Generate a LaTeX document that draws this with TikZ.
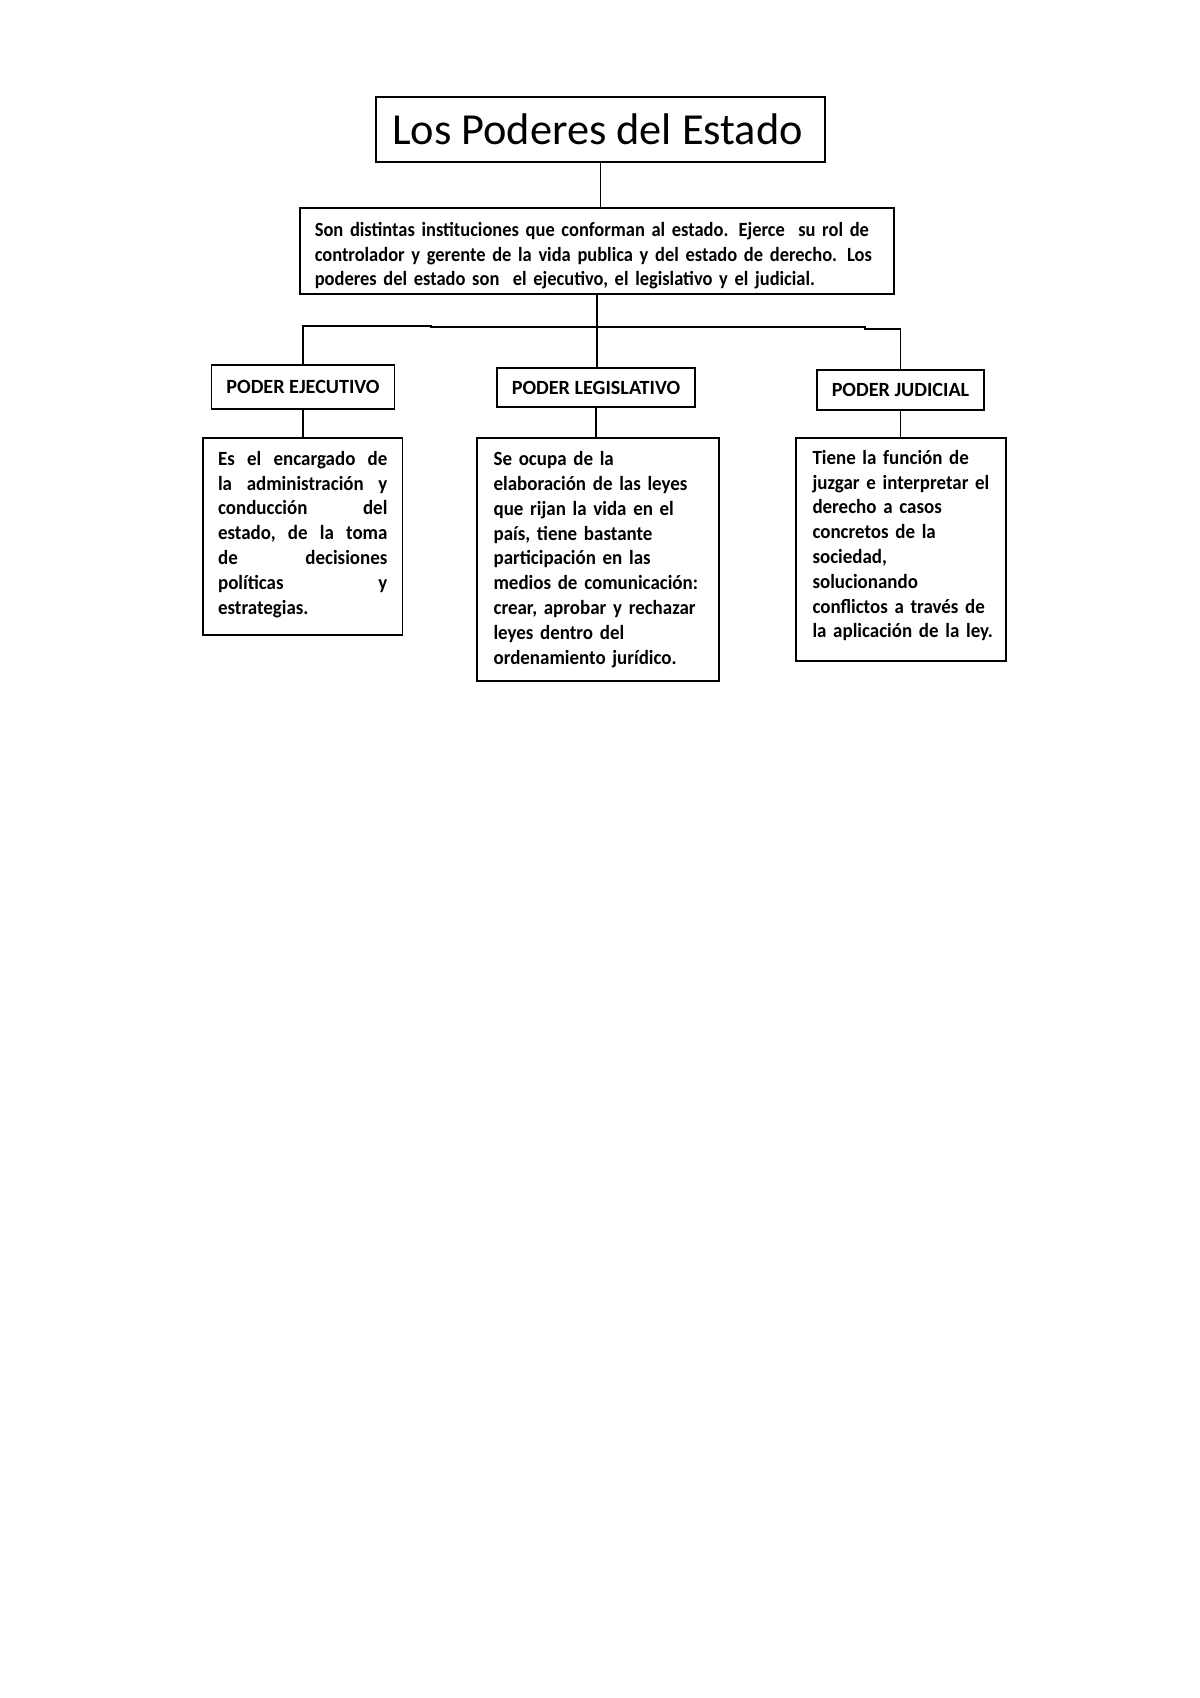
\documentclass[tikz,border=0pt]{standalone}
\usepackage{fontspec}
\setmainfont{Carlito}
\newfontfamily\bodyfont{Carlito}[FakeStretch=0.94]
\newfontfamily\topfont{Carlito}[FakeStretch=0.915]
\newlength\ejw
\setlength\ejw{84pt}
\newcommand\jline[1]{\leavevmode\hbox to\ejw{#1}}
\begin{document}
\begin{tikzpicture}[x=0.49606pt,y=-0.49606pt,
  box/.style={draw, line width=0.9pt, rectangle, inner ysep=0pt},
  conn/.style={line width=0.85pt},
  label/.style={font=\bfseries\fontsize{10}{12}\selectfont},
  body/.style={font=\bodyfont\bfseries\fontsize{10}{12.3}\selectfont},
  descbox/.style={box, body, align=left, inner xsep=8pt},
]
\useasboundingbox (0,0) rectangle (1200,1698);
\fill[white] (0,0) rectangle (1200,1698);

\node[box, inner sep=0pt, minimum width=222.7pt, minimum height=32.2pt,
      font=\fontsize{22}{26}\selectfont] (title) at (600.5,129.5) {\hspace*{-3pt}Los Poderes del Estado};

\node[box, align=left, inner xsep=7.35pt, text width=280pt,
      minimum height=42.7pt, font=\topfont\bfseries\fontsize{10}{12.3}\selectfont] (desc) at (597,251)
  {\mbox{\rule{0pt}{11.8pt}Son distintas instituciones que conforman al estado. Ejerce\ \ su rol de}\\
   \mbox{controlador y gerente de la vida publica y del estado de derecho. Los}\\
   \mbox{poderes del estado son\ \ el ejecutivo, el legislativo y el judicial.}};

\node[box, label, inner sep=0pt, minimum width=90.8pt, minimum height=21.6pt] (ejec) at (303,387) {PODER EJECUTIVO};
\node[box, label, inner sep=0pt, minimum width=98.5pt, minimum height=19.3pt] (leg) at (596,387.5) {PODER LEGISLATIVO};
\node[box, label, inner sep=0pt, minimum width=82.8pt, minimum height=19.8pt] (jud) at (900.5,390) {PODER JUDICIAL};

\node[descbox, inner xsep=7.5pt, text width=84pt, minimum height=97.7pt] (ejecd) at (302.75,536.5)
  {\jline{Es\hfill el\hfill encargado\hfill de}\\
   \jline{la\hfill administración\hfill y}\\
   \jline{conducción\hfill del}\\
   \jline{estado,\hfill de\hfill la\hfill toma}\\
   \jline{de\hfill decisiones}\\
   \jline{políticas\hfill y}\\
   \mbox{estrategias.}\vspace*{2.2pt}};

\node[descbox, inner xsep=8.2pt, text width=103.6pt, minimum height=120.5pt] (legd) at (598,559.5)
  {\mbox{Se ocupa de la}\\
   \mbox{elaboración de las leyes}\\
   \mbox{que rijan la vida en el}\\
   \mbox{país, tiene bastante}\\
   \mbox{participación en las}\\
   \mbox{medios de comunicación:}\\
   \mbox{crear, aprobar y rechazar}\\
   \mbox{leyes dentro del}\\
   \mbox{ordenamiento jurídico.}};

\node[descbox, inner xsep=8.2pt, text width=87.8pt, minimum height=110.6pt] (judd) at (901,549.5)
  {\mbox{Tiene la función de}\\
   \mbox{juzgar e interpretar el}\\
   \mbox{derecho a casos}\\
   \mbox{concretos de la}\\
   \mbox{sociedad,}\\
   \mbox{solucionando}\\
   \mbox{conflictos a través de}\\
   \mbox{la aplicación de la ley.}\vspace*{3.8pt}};

\draw[conn] (title.south) -- (title.south |- desc.north);
\draw[conn] (desc.south) -- (desc.south |- leg.north);
\draw[conn] (ejec.north) -- (ejec.north |- 0,325.7) -- (431,325.7) -- (431,327.3)
  -- (865,327.3) -- (865,329) -- (jud.north |- 0,329) -- (jud.north);
\draw[conn] (ejec.south) -- (ejec.south |- ejecd.north);
\draw[conn] (leg.south) -- (leg.south |- legd.north);
\draw[conn] (jud.south) -- (jud.south |- judd.north);
\end{tikzpicture}
\end{document}
